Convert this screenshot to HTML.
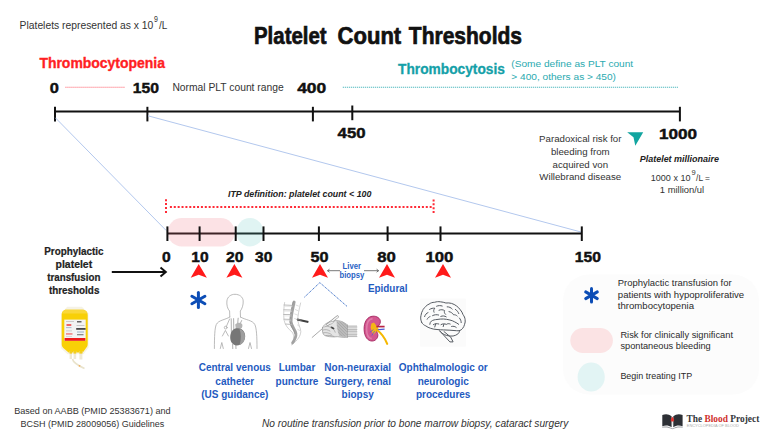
<!DOCTYPE html>
<html><head><meta charset="utf-8"><title>Platelet Count Thresholds</title>
<style>
html,body{margin:0;padding:0;background:#fff;}
body{width:776px;height:437px;overflow:hidden;}
svg{display:block;}
text{font-family:"Liberation Sans",Arial,sans-serif;}
.b{font-weight:bold;}
.num{font-family:"Liberation Sans",Arial,sans-serif;font-weight:bold;font-size:15px;fill:#111;stroke:#111;stroke-width:0.45px;}
.sm{font-size:10px;fill:#333;}
.blue{fill:#1f5bbf;font-weight:bold;font-size:10px;}
</style></head>
<body>
<svg width="776" height="437" viewBox="0 0 776 437">
<!-- top note -->
<text class="sm" x="19.6" y="28.6" textLength="133.7" lengthAdjust="spacingAndGlyphs">Platelets represented as x 10</text>
<text x="154.1" y="22.4" font-size="8.5" fill="#333" textLength="3.9" lengthAdjust="spacingAndGlyphs">9</text>
<text class="sm" x="158.9" y="28.6" textLength="8.3" lengthAdjust="spacingAndGlyphs">/L</text>
<!-- title -->
<g font-size="24" font-weight="bold" fill="#111" stroke="#111" stroke-width="0.7">
<text x="254" y="43.8" textLength="72.6" lengthAdjust="spacingAndGlyphs">Platelet</text>
<text x="337.6" y="43.8" textLength="63.6" lengthAdjust="spacingAndGlyphs">Count</text>
<text x="408.8" y="43.8" textLength="113.2" lengthAdjust="spacingAndGlyphs">Thresholds</text>
</g>
<!-- Thrombocytopenia -->
<text x="39.4" y="68.1" font-size="14" font-weight="bold" fill="#ff1f24" stroke="#ff1f24" stroke-width="0.35" textLength="125.6" lengthAdjust="spacingAndGlyphs">Thrombocytopenia</text>
<!-- Thrombocytosis -->
<text x="398" y="74" font-size="14" font-weight="bold" fill="#14a0a8" stroke="#14a0a8" stroke-width="0.3" textLength="106.9" lengthAdjust="spacingAndGlyphs">Thrombocytosis</text>
<text x="511.3" y="66.8" font-size="9.6" fill="#2aaab0" textLength="121.9" lengthAdjust="spacingAndGlyphs">(Some define as PLT count</text>
<text x="511.3" y="79.8" font-size="9.6" fill="#2aaab0" textLength="104.7" lengthAdjust="spacingAndGlyphs">&gt; 400, others as &gt; 450)</text>
<!-- top numbers -->
<text class="num" x="49.7" y="92.8" textLength="9.1" lengthAdjust="spacingAndGlyphs">0</text>
<text class="num" x="132.7" y="92.8" textLength="26.2" lengthAdjust="spacingAndGlyphs">150</text>
<text class="num" x="297.2" y="92.8" textLength="29" lengthAdjust="spacingAndGlyphs">400</text>
<text x="172.4" y="91.2" font-size="10.5" fill="#333" textLength="111.3" lengthAdjust="spacingAndGlyphs">Normal PLT count range</text>
<line x1="65.4" y1="87.2" x2="125.1" y2="87.2" stroke="#ff6672" stroke-width="1.1" stroke-dasharray="1.1 0.9"/>
<line x1="342.8" y1="87.3" x2="678" y2="87.3" stroke="#3fb2b8" stroke-width="1.1" stroke-dasharray="1.1 0.9"/>
<!-- top axis -->
<line x1="55" y1="111.6" x2="680" y2="111.6" stroke="#111" stroke-width="2"/>
<g stroke="#111" stroke-width="2">
<line x1="55" y1="106.8" x2="55" y2="121.4"/>
<line x1="147.4" y1="106.8" x2="147.4" y2="121.4"/>
<line x1="312.9" y1="106.8" x2="312.9" y2="121.4"/>
<line x1="352.3" y1="105.5" x2="352.3" y2="120.2"/>
<line x1="679.9" y1="106.8" x2="679.9" y2="121.4"/>
</g>
<text class="num" x="337.6" y="137.9" textLength="27.9" lengthAdjust="spacingAndGlyphs">450</text>
<text class="num" x="659" y="138.7" textLength="38" lengthAdjust="spacingAndGlyphs">1000</text>
<!-- zoom lines -->
<line x1="55.4" y1="117.8" x2="166.2" y2="230.5" stroke="#b3c8ee" stroke-width="1"/>
<line x1="148" y1="115.8" x2="581" y2="232" stroke="#b3c8ee" stroke-width="1"/>
<!-- paradoxical -->
<g font-size="9.7" fill="#333" text-anchor="middle">
<text x="580.3" y="141.9">Paradoxical risk for</text>
<text x="580.3" y="154.8">bleeding from</text>
<text x="580.3" y="167.7">acquired von</text>
<text x="580.3" y="180.4">Willebrand disease</text>
</g>
<polygon points="627.2,132.2 643.2,132.2 635.3,145.7 633.5,137.3" fill="#12a5a0"/>
<text x="639.7" y="162" font-size="9.5" font-weight="bold" font-style="italic" fill="#222" textLength="79.3" lengthAdjust="spacingAndGlyphs">Platelet millionaire</text>
<g font-size="9" fill="#333">
<text x="650.8" y="181.3" textLength="39.7" lengthAdjust="spacingAndGlyphs">1000 x 10</text>
<text x="691.5" y="175" font-size="7.5" textLength="4.2" lengthAdjust="spacingAndGlyphs">9</text>
<text x="696.1" y="181.3" textLength="13.9" lengthAdjust="spacingAndGlyphs">/L =</text>
<text x="659.8" y="192.7" textLength="44.4" lengthAdjust="spacingAndGlyphs">1 million/ul</text>
</g>
<!-- ITP def -->
<text x="228" y="196.8" font-size="9.5" font-weight="bold" font-style="italic" fill="#222" textLength="143.4" lengthAdjust="spacingAndGlyphs">ITP definition: platelet count &lt; 100</text>
<line x1="169.9" y1="206.9" x2="432.5" y2="206.9" stroke="#ff2a36" stroke-width="2" stroke-dasharray="2 1.877"/>
<line x1="166" y1="199.2" x2="166" y2="213.1" stroke="#ff2a36" stroke-width="2" stroke-dasharray="2 1.9"/>
<line x1="433.6" y1="199.4" x2="433.6" y2="213.1" stroke="#ff2a36" stroke-width="2" stroke-dasharray="2 1.9"/>
<!-- shaded regions -->
<!-- lower axis -->
<line x1="167.4" y1="233.4" x2="581.8" y2="233.4" stroke="#111" stroke-width="2"/>
<rect x="167.6" y="218" width="67.2" height="28.4" rx="14.2" fill="#f2707c" fill-opacity="0.2"/>
<ellipse cx="250" cy="232.2" rx="13.7" ry="14.2" fill="#64c8c3" fill-opacity="0.2"/>
<g stroke="#111" stroke-width="2">
<line x1="167.4" y1="226.4" x2="167.4" y2="241"/>
<line x1="199.6" y1="226.4" x2="199.6" y2="241"/>
<line x1="235.7" y1="226.4" x2="235.7" y2="241"/>
<line x1="263.5" y1="226.4" x2="263.5" y2="241"/>
<line x1="318.9" y1="226.4" x2="318.9" y2="241"/>
<line x1="387.6" y1="226.4" x2="387.6" y2="241"/>
<line x1="440.5" y1="226.4" x2="440.5" y2="241"/>
<line x1="581.8" y1="226.4" x2="581.8" y2="241"/>
</g>
<g class="num">
<text class="num" x="162" y="262" textLength="8.7" lengthAdjust="spacingAndGlyphs">0</text>
<text class="num" x="191.3" y="262" textLength="17.3" lengthAdjust="spacingAndGlyphs">10</text>
<text class="num" x="225.9" y="262" textLength="17.5" lengthAdjust="spacingAndGlyphs">20</text>
<text class="num" x="255" y="262" textLength="17.3" lengthAdjust="spacingAndGlyphs">30</text>
<text class="num" x="310.4" y="262" textLength="18" lengthAdjust="spacingAndGlyphs">50</text>
<text class="num" x="377.3" y="262" textLength="18.6" lengthAdjust="spacingAndGlyphs">80</text>
<text class="num" x="425.5" y="262" textLength="27.9" lengthAdjust="spacingAndGlyphs">100</text>
<text class="num" x="574.8" y="262" textLength="26.2" lengthAdjust="spacingAndGlyphs">150</text>
</g>
<!-- red arrows -->
<g fill="#ff1a1a">
<polygon points="198.7,264 206.9,277.8 198.7,274.8 190.7,277.8"/>
<polygon points="234.4,264 242.4,277.8 234.4,274.8 226.4,277.8"/>
<polygon points="320,264 328,277.8 320,274.8 312,277.8"/>
<polygon points="387,264 395,277.8 387,274.8 379,277.8"/>
<polygon points="443,264 451,277.8 443,274.8 435,277.8"/>
</g>
<!-- liver biopsy -->
<text x="342.6" y="268.5" font-size="8.6" font-weight="bold" fill="#2a63c4" textLength="18.4" lengthAdjust="spacingAndGlyphs">Liver</text>
<text x="339.5" y="278.4" font-size="8.6" font-weight="bold" fill="#2a63c4" textLength="24.9" lengthAdjust="spacingAndGlyphs">biopsy</text>
<g stroke="#555" stroke-width="0.8" fill="none">
<line x1="327.5" y1="270.7" x2="340" y2="270.7"/>
<polyline points="329.5,269.2 327.5,270.7 329.5,272.2"/>
<line x1="364" y1="270.7" x2="378.6" y2="270.7"/>
<polyline points="376.6,269.2 378.6,270.7 376.6,272.2"/>
</g>
<text x="367.9" y="292" font-size="10.5" font-weight="bold" fill="#1f5bbf" textLength="39.6" lengthAdjust="spacingAndGlyphs">Epidural</text>
<!-- prophylactic -->
<g font-size="10" font-weight="bold" fill="#222" stroke="#222" stroke-width="0.2" lengthAdjust="spacingAndGlyphs">
<text x="44.3" y="255" textLength="59.2" lengthAdjust="spacingAndGlyphs">Prophylactic</text>
<text x="55.5" y="268" textLength="36.7" lengthAdjust="spacingAndGlyphs">platelet</text>
<text x="47.2" y="280.8" textLength="53.2" lengthAdjust="spacingAndGlyphs">transfusion</text>
<text x="48.9" y="293.8" textLength="50.5" lengthAdjust="spacingAndGlyphs">thresholds</text>
</g>
<line x1="111.8" y1="272.1" x2="165.5" y2="272.1" stroke="#111" stroke-width="2"/>
<polyline points="160.5,267.6 165.8,272.1 160.5,276.6" fill="none" stroke="#111" stroke-width="2"/>
<!-- blue dotted caret -->
<polyline points="304.4,297.2 319.8,282.6 347.3,306.6" fill="none" stroke="#3b6fc8" stroke-width="1" stroke-dasharray="1.2 0.8"/>
<!-- asterisk -->
<g stroke="#0c4db6" stroke-width="3" stroke-linecap="round">
<line x1="198.4" y1="292.5" x2="198.4" y2="307.5"/>
<line x1="191.9" y1="296.2" x2="204.9" y2="303.8"/>
<line x1="191.9" y1="303.8" x2="204.9" y2="296.2"/>
</g>
<!-- torso icon -->
<g fill="none" stroke="#a9a9a9" stroke-width="0.8" stroke-linecap="round">
<path d="M229.8,317 L229.6,311 C227.5,309 226.5,305 226.9,301 C227.5,296.5 231,294.3 235,294.3 C239.5,294.3 243,297 243.2,301 C243.4,305 242,309 240.3,311 L240.5,317"/>
<path d="M229.8,317 C225,320 218.5,320 216.3,324.5 C214.8,328 214.4,336 214.4,348.5"/>
<path d="M240.5,317 C245,320 252.5,320 254.8,324.5 C256.5,328 257,336 257,348.5"/>
<path d="M220.3,348.5 L221.8,342.5 L223.3,348.5"/>
<path d="M248.5,348.5 L250,342.5 L251.5,348.5"/>
<circle cx="225.7" cy="327.6" r="1.4"/>
<path d="M222.4,336 L225.4,330.4 L228.4,336 M226.4,326.4 L229.6,319"/>
</g>
<g stroke="#9a9a9a" stroke-width="0.8" fill="none">
<path d="M231.2,318.4 L231.4,333 M233.6,318.2 L233.8,330 M238.2,317.8 L237.6,324.5 M241.8,320.2 L239.6,325"/>
<path d="M232.6,344 L232.8,349 M235.8,344.5 L236,349"/>
</g>
<path d="M235.2,324.5 C237,322.6 239.5,322.4 241.5,323.4 C243,324.5 242.6,327 241.2,328.6 L236,330 Z" fill="#b4b4b4"/>
<path d="M236.5,328.2 C241.5,327.6 245.3,331 245.2,336.3 C245.1,341.3 241.5,345.4 236.8,345.4 C232.8,345.4 230.2,341.8 230.2,337.5 C230.2,332.5 232.6,328.6 236.5,328.2 Z" fill="#767676"/>
<path d="M239.5,328.8 C243,330 245,333 245,336.8 C244.9,341 242.5,344.2 239.6,345 C241.2,340 241.3,333.8 239.5,328.8 Z" fill="#9e9e9e"/>
<!-- spine icon -->
<g fill="none" stroke-linecap="round">
<path d="M284.6,302.5 C283.7,308 283.5,314 284,320 C285,325.5 288.5,329 292,332 C294,334.5 294.5,338 292,344.5" stroke="#c6c6c6" stroke-width="0.8"/>
<path d="M300.6,303 C299,310 297.6,316 297.8,320.5 C298.4,325 300.8,328 300.8,331.5 C300.6,336 298,340 291.8,344.8" stroke="#bdbdbd" stroke-width="0.7"/>
<path d="M294.2,302 C292.8,309 290.8,316 291.1,322 C291.6,327 295.4,329.5 295.9,333.5 C296.3,337 294.6,340 292.6,342.8" stroke="#a2a2a2" stroke-width="2.8"/>
<path d="M293,302 C291.6,309 289.6,316 289.9,322 C290.4,327 294.2,329.5 294.7,333.5" stroke="#8a8a8a" stroke-width="0.7"/>
<path d="M284,305 L292.4,305.4 M283.8,309.8 L291.7,310 M283.7,314.5 L291.1,314.6 M284,319.2 L290.8,319.4 M285.5,324 L291.6,324.5" stroke="#b4b4b4" stroke-width="0.9"/>
<path d="M284.2,306.4 L292.2,306.6 M284,311.2 L291.6,311.3 M283.9,315.9 L291.1,316 M284.4,320.6 L290.9,320.8" stroke="#dcdcdc" stroke-width="0.6"/>
<path d="M295.8,305 L298.4,306 M295.2,309.5 L297.8,310.6 M294.8,314 L297.4,315 M294.6,318.5 L297.2,319.5 M297.5,325 L299.5,326.5 M297.8,329.5 L299.8,330.5" stroke="#c8c8c8" stroke-width="0.6"/>
<path d="M297.2,319.4 L308.4,321.9" stroke="#3f3f3f" stroke-width="2" stroke-linecap="butt"/>
<path d="M297.2,319.4 L301,320.2" stroke="#777" stroke-width="1.2"/>
</g>
<!-- hand icon -->
<g stroke-linecap="round" stroke-linejoin="round">
<path d="M312.2,337.4 L322.2,328.8" stroke="#a0a0a0" stroke-width="0.9" fill="none"/>
<path d="M322.6,327.7 C323.4,325.8 324.4,324.6 325.8,323.8 C327,322.9 328.2,322.3 329.6,321.9 C331.2,321.1 333,320.6 334.8,320.6 C337,320.4 339.2,320.6 341.2,321.3 C343.6,322.2 345.6,323.5 347.7,325.1 L347.7,337.2 C346.4,337.4 345,337.4 343.8,337.4 C341.6,337.2 339.5,337 337.4,336.7 C334.8,337 332.2,337 329.6,336.7 C327.8,336.4 326,336 324.5,335.4 C323.4,334.6 322.8,333.4 322.6,332.2 C322.3,330.6 322.3,329 322.6,327.7 Z" fill="#e4e4e4" stroke="#8c8c8c" stroke-width="0.6"/>
<path d="M336.5,321 C339.5,320.8 342.5,321.6 345,323.4 C346.3,324.3 347.2,325 347.7,325.4 L347.7,336.8 C345,337.1 342,337 339.6,336.6 C338,333 336.8,328 336.5,321 Z" fill="#bcbcbc"/>
<path d="M337.5,322.5 L346.5,331.5 M337.4,325.6 L346.4,334.6 M339.5,321.6 L347.4,329.5 M337.6,328.8 L345,336.2 M342.5,321.8 L347.5,326.8 M338.2,332 L342.4,336.2" stroke="#8f8f8f" stroke-width="0.45" fill="none"/>
<path d="M323,330 C325.4,329.2 328,329.6 330,331 M323.4,332.8 C326,332.2 329,332.8 331.4,334.4 M326,335.6 C328.6,335 331.6,335.4 334,336.5 M324.6,326.8 C326.6,325.8 329.2,326.2 331,327.8 M331,327.8 C333,328.4 334.6,330 335.2,332.2" stroke="#8a8a8a" stroke-width="0.55" fill="none"/>
<path d="M330.6,326.6 C332.4,326.4 334,327.4 334.6,329 C333,329.6 331.6,329.2 330.6,326.6 Z" fill="#444"/>
<path d="M327.7,324.5 L337.4,316.8" stroke="#8e8e8e" stroke-width="2.7" fill="none"/>
<path d="M327.7,324.5 L337.4,316.8" stroke="#f7f7f7" stroke-width="1.5" fill="none"/>
<path d="M328.2,323 C330,321.8 332,321.2 334.2,321.4 C333.4,322.8 332,323.8 330,324.4" stroke="#8c8c8c" stroke-width="0.55" fill="#efefef"/>
<rect x="347.4" y="325.2" width="9.6" height="11.8" fill="#d6d6d6"/>
<path d="M347.6,327 L357,327 M347.6,329.4 L357,329.4 M347.6,331.8 L357,331.8 M347.6,334.2 L357,334.2 M347.6,336.6 L357,336.6" stroke="#a2a2a2" stroke-width="0.55"/>
<path d="M347.6,328.2 L357,328.2 M347.6,333 L357,333" stroke="#f2f2f2" stroke-width="0.6"/>
<path d="M347.5,325 L347.5,337.2" stroke="#8a8a8a" stroke-width="0.5"/>
</g>
<!-- kidney icon -->
<path d="M373,316.2 C376.8,316 380.4,318.2 380.4,321.6 C380.4,324.4 378.4,325.6 377,327.4 C375.8,329.2 376.6,331.6 377.6,333.6 C378.6,336.6 376.6,340.6 372.6,341 C367.6,341.4 364.4,336.6 364.1,329.6 C363.8,322 367.4,316.4 373,316.2 Z" fill="#d3568f" stroke="#a4245e" stroke-width="0.9"/>
<path d="M372.6,318.6 C369,319 366.6,323 366.6,329 C366.6,334.5 368.6,338.4 371.8,338.6" stroke="#e07ca9" stroke-width="1.6" fill="none"/>
<path d="M371.4,323.6 L374,322.4 L376.6,326 L378.6,328.6 L376.4,331.6 L373.4,334.4 L371.6,331 L370.6,327.6 Z" fill="#f4b517"/>
<path d="M376.4,326.6 L384.6,326.6" stroke="#b72445" stroke-width="1.7"/>
<path d="M376.2,329.8 L384.6,329.2" stroke="#4c5bd6" stroke-width="1.2"/>
<path d="M374.6,331 L371.8,335.6 M373.4,329.6 L369.8,332.4" stroke="#4c5bd6" stroke-width="0.7" fill="none"/>
<path d="M377,330 C380.6,332.6 384.4,337 387.2,343.8" stroke="#f5b800" stroke-width="2.1" fill="none" stroke-linecap="round"/>
<!-- brain icon -->
<rect x="420.2" y="298.6" width="45.7" height="48" fill="#fbfbfb"/>
<g fill="none" stroke="#565b62" stroke-width="1" stroke-linecap="round" stroke-linejoin="round">
<path d="M421.8,322.7 C420.6,320 420.4,317.6 421,315.4 C421.3,313.4 421.8,311.8 422.6,310.6 C423.2,309 424,308 425,307.4 C426.2,305.6 427.4,304.8 429,304.2 C430.6,302.8 432.6,302.3 434.6,302.3 C436.6,301.6 438.5,301.5 440.3,301.8 C442.3,302 444.2,302.4 445.9,303 C447.8,302.8 449.8,302.9 451.5,303.4 C453.4,304 455,304.8 456.3,305.8 C458,307 459.3,308.3 460.3,309.8 C461.6,311.3 462.5,312.9 463,314.6 C464.2,316.2 464.9,317.8 465.1,319.5 C465.4,321.2 465.2,322.8 464.6,324.3 C464.2,325.8 463.6,327.2 462.7,328.3 C461.8,329.6 460.7,330.3 459.5,330.7"/>
<path d="M421.8,322.7 C422.8,324.2 424.2,325.3 425.8,325.9 C427.2,327 428.8,327.8 430.6,328.3 C432.6,329 434.8,329.4 437,329.5 C439.2,329.8 441.4,329.9 443.5,329.9 C445.7,330 447.8,330.1 449.9,330.2 C452,330.4 454.2,330.6 456.3,330.7 C457.4,330.8 458.5,330.8 459.5,330.7"/>
<path d="M429.8,324.3 C429.9,323 430.4,321.9 431.4,321.1 C433,320 435,319.6 437,319.5 C439.2,319.1 441.3,318.9 443.5,319 C445.7,319.2 447.8,319.4 449.9,320 C451.6,320.4 453.2,321 454.7,321.9 C456.2,322.6 457.5,323.4 458.7,324.3"/>
<path d="M439.5,330.7 C440.1,331.6 440.9,332.4 441.9,333.1 C443.4,334.2 445,335 446.7,335.5 C448.8,336.1 451,336.2 453.1,336 C455,335.7 456.6,334.9 457.9,333.9 C459,333 459.6,331.8 459.5,330.7"/>
<path d="M440.2,331.4 L449.9,341.9 L453.1,341.9 L450.7,337.1 L444,331.6"/>
<path d="M424.6,316.6 C425.2,314.6 426.4,313.2 428,312.6 M427.2,319.2 C427.8,317.8 428.8,317 430,316.6 M429.6,309.4 C431.2,308.4 433,308 434.8,308.2 C433.6,309.6 433.4,311 434,312.2 M436.6,306.2 C438.4,305.4 440.4,305.4 442.2,306 M439,310.2 C441,309.4 443,309.6 444.6,310.6 C444,312 444.4,313.4 445.6,314.4 M432.6,315.6 C434.6,314.6 436.6,314.4 438.6,315 M447.2,306.8 C449.2,306.8 451,307.6 452.2,309 M449,311.6 C451,312 452.6,313.2 453.6,314.8 C455,314.6 456.2,315 457.2,316 M455.4,309.4 C457,310.4 458.2,312 458.8,313.6 M459.4,318 C460.6,319.4 461.2,321 461.2,322.6 M440.8,316.4 C442.6,315.6 444.6,315.8 446.2,316.8"/>
<path d="M433.4,324.6 C435,323.6 437,323.4 438.8,324 M435.6,324 L434.8,327 M441,324.6 C442.6,323.6 444.6,323.6 446.4,324.4 C447.4,323.6 448.8,323.4 450.2,324 M443.8,324.4 L443.2,326.6 M451.6,326.4 C453.4,326 455,326.4 456.2,327.4"/>
</g>
<!-- blood bag -->
<g>
<path d="M67.2,306.8 L81.9,306.8 L88.4,313.5 L88.6,347.5 L83.5,354.2 L67.5,354.2 L60.8,348 L61.2,313.5 Z" fill="#f5f2e6"/>
<path d="M66,309.7 L82.5,309.7 C85.5,309.7 87.7,312 87.7,315 L87.7,344 C87.7,346 86.8,347.3 85.2,349.2 L82.8,352.6 L68.6,352.6 L63.6,348.3 C62.2,347 61.7,345.6 61.7,344 L61.7,315 C61.7,312 63.5,309.7 66,309.7 Z" fill="#f8d007"/>
<path d="M66,309.7 L82.5,309.7 C85.5,309.7 87.2,311.5 87.5,313.5 L62,313.5 C62.3,311.5 63.8,309.7 66,309.7 Z" fill="#fad83a"/>
<rect x="64.3" y="319.6" width="21.4" height="21.2" fill="#f3f3f3"/>
<rect x="64.6" y="338" width="20.8" height="2.8" fill="#ee1c1c"/>
<rect x="66" y="321" width="8" height="0.9" fill="#c8c8c8"/>
<rect x="77" y="321" width="4.5" height="1.5" fill="#666"/>
<rect x="66.5" y="324.2" width="4.8" height="1.6" fill="#ee4444"/>
<rect x="66" y="327.2" width="5.5" height="0.9" fill="#9fb6d0"/>
<rect x="76.2" y="328" width="9.4" height="1.8" fill="#4a4a4a"/>
<rect x="76.5" y="325" width="8" height="0.8" fill="#bdbdbd"/>
<rect x="66" y="330.5" width="6" height="0.8" fill="#c6c6c6"/>
<rect x="66" y="333.4" width="6.5" height="1.1" fill="#ee5555"/>
<rect x="77" y="331.5" width="7" height="1" fill="#9ab0c8"/>
<rect x="77" y="334" width="6.5" height="1.3" fill="#8a8a8a"/>
<rect x="66" y="336" width="6" height="0.7" fill="#cccccc"/>
<rect x="69.6" y="351" width="2.4" height="8" fill="#efe9d4"/>
<rect x="73.6" y="351" width="2.6" height="8" fill="#efe9d4"/>
<rect x="79.4" y="351" width="3" height="8.5" fill="#efe9d4"/>
<rect x="69.6" y="351" width="2.4" height="2.6" fill="#f2cd20"/>
<rect x="73.6" y="351" width="2.6" height="2.6" fill="#f2cd20"/>
<rect x="79.4" y="351" width="3" height="2.6" fill="#f2cd20"/>
<path d="M72.5,359 C73.2,363 78,365.5 84.5,368.5" stroke="#e9e3cc" stroke-width="1.6" fill="none"/>
<circle cx="79.5" cy="365.8" r="0.9" fill="#f0b060"/>
</g>
<!-- bottom labels -->
<g font-size="10" font-weight="bold" fill="#1f5bbf" text-anchor="middle">
<text x="234.8" y="371.3">Central venous</text>
<text x="234.8" y="384.5">catheter</text>
<text x="234.8" y="397.5">(US guidance)</text>
<text x="297" y="371.3">Lumbar</text>
<text x="297" y="384.5">puncture</text>
<text x="357.7" y="371.3">Non-neuraxial</text>
<text x="357.7" y="384.5">Surgery, renal</text>
<text x="357.7" y="397.5">biopsy</text>
<text x="443.2" y="371.3">Ophthalmologic or</text>
<text x="443.2" y="384.5">neurologic</text>
<text x="443.2" y="397.5">procedures</text>
</g>
<!-- bottom notes -->
<g font-size="9.6" fill="#333">
<text x="14.2" y="414.3" textLength="156.4" lengthAdjust="spacingAndGlyphs">Based on AABB (PMID 25383671) and</text>
<text x="20.6" y="426.7" textLength="143.6" lengthAdjust="spacingAndGlyphs">BCSH (PMID 28009056) Guidelines</text>
</g>
<text x="262" y="427" font-size="10" font-style="italic" fill="#333" textLength="306.3" lengthAdjust="spacingAndGlyphs">No routine transfusion prior to bone marrow biopsy, cataract surgery</text>
<!-- legend -->
<rect x="563" y="274.4" width="196" height="120.2" rx="26" fill="#fcfcfc"/>
<g stroke="#0c4db6" stroke-width="3" stroke-linecap="round">
<line x1="591.5" y1="288.5" x2="591.5" y2="302"/>
<line x1="585.7" y1="291.9" x2="597.3" y2="298.6"/>
<line x1="585.7" y1="298.6" x2="597.3" y2="291.9"/>
</g>
<g font-size="9.5" fill="#2a2a2a">
<text x="617.8" y="285.7" textLength="113.8" lengthAdjust="spacingAndGlyphs">Prophylactic transfusion for</text>
<text x="617.8" y="297.6" textLength="126.4" lengthAdjust="spacingAndGlyphs">patients with hypoproliferative</text>
<text x="617.8" y="309" textLength="76.2" lengthAdjust="spacingAndGlyphs">thrombocytopenia</text>
<text x="620.4" y="337.6" textLength="112.6" lengthAdjust="spacingAndGlyphs">Risk for clinically significant</text>
<text x="620.4" y="348.9" textLength="90.3" lengthAdjust="spacingAndGlyphs">spontaneous bleeding</text>
<text x="620.4" y="378.6" textLength="71.8" lengthAdjust="spacingAndGlyphs">Begin treating ITP</text>
</g>
<rect x="570.3" y="328" width="42.6" height="25" rx="12.5" fill="#fbe3e4"/>
<ellipse cx="591.2" cy="377" rx="13.6" ry="14.4" fill="#e2f4f4"/>
<!-- logo -->
<g>
<path d="M662.3,415 C665.5,413.6 669,414 671.6,416.2 L671.6,427.2 C669,425.4 665.5,425.2 662.3,426.2 Z" fill="#2d3035"/>
<path d="M682.6,415 C679.4,413.6 675.9,414 673.3,416.2 L673.3,427.2 C675.9,425.4 679.4,425.2 682.6,426.2 Z" fill="#2d3035"/>
<path d="M662.3,426.8 C665.5,426 669,426.3 672.4,428.6 C675.9,426.3 679.4,426 682.6,426.8 L682.6,427.8 C679.4,427.2 675.9,427.5 672.4,429.3 C669,427.5 665.5,427.2 662.3,427.8 Z" fill="#9a9ca0"/>
<path d="M672.4,416.8 C673.6,418.4 674.1,419.3 674.1,420.1 C674.1,421.1 673.3,421.7 672.4,421.7 C671.5,421.7 670.7,421.1 670.7,420.1 C670.7,419.3 671.2,418.4 672.4,416.8 Z" fill="#e2332e"/>
<line x1="672.4" y1="421.7" x2="672.4" y2="424.8" stroke="#ddd" stroke-width="0.7"/>
</g>
<text x="686.5" y="422.2" style="font-family:'Liberation Serif',serif" font-size="9.8" font-weight="bold" fill="#34373b" textLength="72.8" lengthAdjust="spacingAndGlyphs">The <tspan fill="#d0302c">Blood</tspan> Project</text>
<text x="686.8" y="427" font-size="2.6" fill="#aaa" textLength="52" lengthAdjust="spacingAndGlyphs">ENCYCLOPEDIA OF BLOOD</text>
</svg>
</body></html>
